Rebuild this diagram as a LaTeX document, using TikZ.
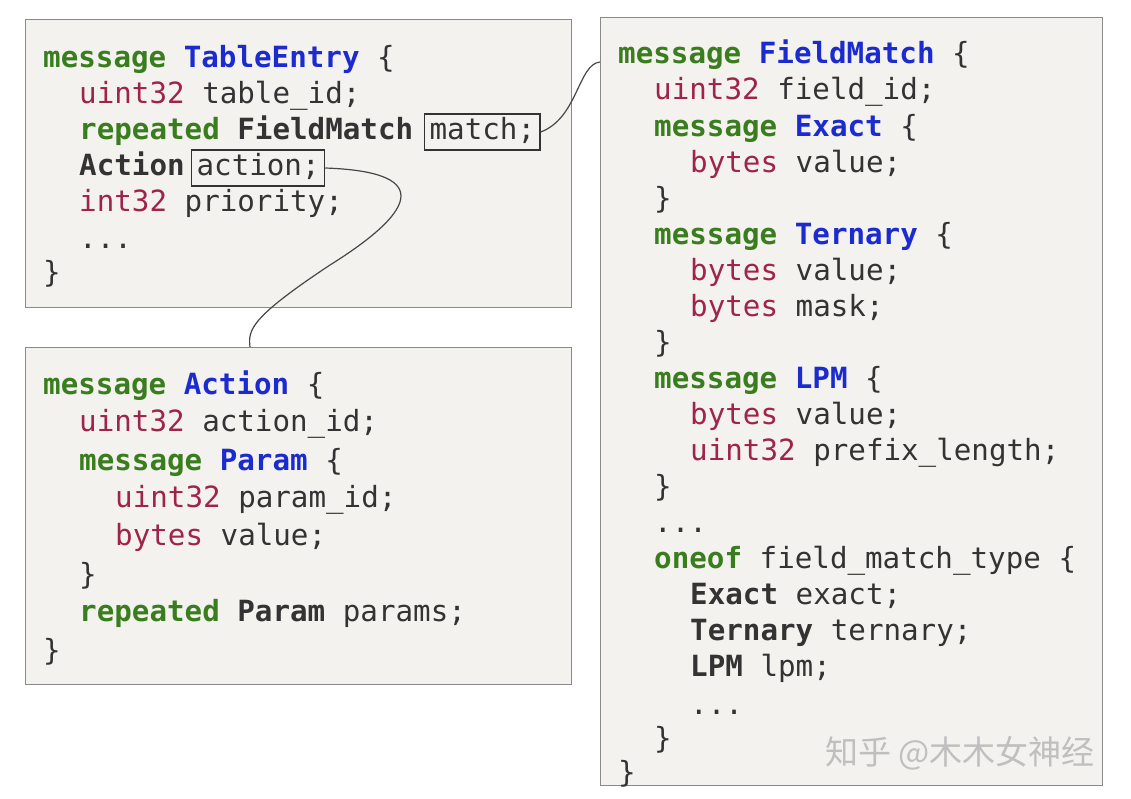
\documentclass[tikz,border=0pt]{standalone}
\usepackage{fontspec}
\setmonofont{DejaVu Sans Mono}
\newfontfamily\cjk{Noto Sans CJK SC}
\definecolor{kwc}{HTML}{3A7D1E}
\definecolor{tyc}{HTML}{1B2BD0}
\definecolor{ptc}{HTML}{9E2448}
\definecolor{txc}{HTML}{333333}
\definecolor{boxf}{HTML}{F4F2EE}
\definecolor{boxd}{HTML}{8A8A8A}
\newcommand{\kw}[1]{\textbf{\color{kwc}#1}}
\newcommand{\ty}[1]{\textbf{\color{tyc}#1}}
\newcommand{\pt}[1]{{\color{ptc}#1}}
\newcommand{\bd}[1]{\textbf{#1}}
\begin{document}
\begin{tikzpicture}[x=1pt,y=-1pt,
  box/.style={draw=boxd,fill=boxf,line width=1.2pt},
  code/.style={anchor=base west,inner sep=0pt,font=\ttfamily\fontsize{29.2}{30}\selectfont,text=txc},
  hl/.style={code,draw=txc,line width=1.2pt,inner xsep=5pt,inner ysep=3pt,text height=22pt,text depth=8pt},
  link/.style={draw=txc!90,line width=1.2pt}]
\useasboundingbox (0,0) rectangle (1131,798);
\node[box,minimum width=546pt,minimum height=288pt,anchor=north west,inner sep=0pt] (te) at (25,19) {};
\node[box,minimum width=546pt,minimum height=337pt,anchor=north west,inner sep=0pt] (ac) at (25,347) {};
\node[box,minimum width=502pt,minimum height=768pt,anchor=north west,inner sep=0pt] (fm) at (600,17) {};
% TableEntry
\node[code] (t1) at (43,67) {\kw{message} \ty{TableEntry} \{};
\node[code] (t2) at (79,103) {\pt{uint32} table\_id;};
\node[code] (t3) at (79,139) {\kw{repeated} \bd{FieldMatch}};
\node[hl] (tm) at (424,139) {match;};
\node[code] (t4) at (79,175) {\bd{Action}};
\node[hl] (ta) at (191,175) {action;};
\node[code] (t5) at (79,211) {\pt{int32} priority;};
\node[code] (t6) at (79,248) {...};
\node[code] (t7) at (43,282) {\}};
% Action
\node[code] (a1) at (43,394) {\kw{message} \ty{Action} \{};
\node[code] (a2) at (79,431) {\pt{uint32} action\_id;};
\node[code] (a3) at (79,470) {\kw{message} \ty{Param} \{};
\node[code] (a4) at (115,507) {\pt{uint32} param\_id;};
\node[code] (a5) at (115,545) {\pt{bytes} value;};
\node[code] (a6) at (79,584) {\}};
\node[code] (a7) at (79,621) {\kw{repeated} \bd{Param} params;};
\node[code] (a8) at (43,660) {\}};
% FieldMatch
\node[code] (f1) at (618,63) {\kw{message} \ty{FieldMatch} \{};
\node[code] (f2) at (654,99) {\pt{uint32} field\_id;};
\node[code] (f3) at (654,136) {\kw{message} \ty{Exact} \{};
\node[code] (f4) at (690,172) {\pt{bytes} value;};
\node[code] (f5) at (654,208) {\}};
\node[code] (f6) at (654,244) {\kw{message} \ty{Ternary} \{};
\node[code] (f7) at (690,280) {\pt{bytes} value;};
\node[code] (f8) at (690,316) {\pt{bytes} mask;};
\node[code] (f9) at (654,352) {\}};
\node[code] (f10) at (654,388) {\kw{message} \ty{LPM} \{};
\node[code] (f11) at (690,424) {\pt{bytes} value;};
\node[code] (f12) at (690,460) {\pt{uint32} prefix\_length;};
\node[code] (f13) at (654,496) {\}};
\node[code] (f14) at (654,532) {...};
\node[code] (f15) at (654,568) {\kw{oneof} field\_match\_type \{};
\node[code] (f16) at (690,604) {\bd{Exact} exact;};
\node[code] (f17) at (690,640) {\bd{Ternary} ternary;};
\node[code] (f18) at (690,676) {\bd{LPM} lpm;};
\node[code] (f19) at (690,714) {...};
\node[code] (f20) at (654,748) {\}};
\node[code] (f21) at (618,782) {\}};
% connectors
\coordinate (fmin) at (600,62);
\coordinate (acin) at (250,347);
\draw[link] (tm.east) .. controls (578,118) and (578,64) .. (fmin);
\draw[link] (ta.east) .. controls (440,172) and (410,215) .. (330,265) .. controls (250,318) and (248,330) .. (acin);
% watermark
\node[anchor=base west,inner sep=0pt,font=\cjk\fontsize{33}{35}\selectfont,text=black!25] (wm) at (825,764) {知乎 @木木女神经};
\end{tikzpicture}
\end{document}
